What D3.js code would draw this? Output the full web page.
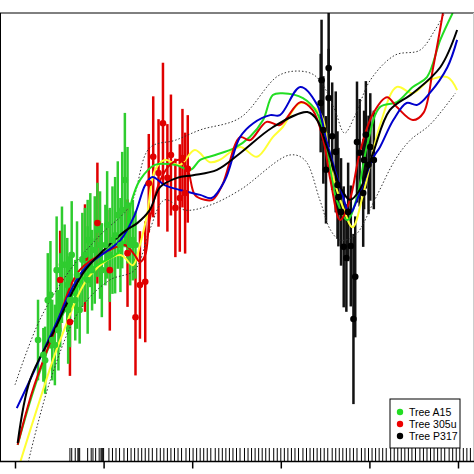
<!DOCTYPE html>
<html><head><meta charset="utf-8">
<script src="https://cdn.jsdelivr.net/npm/d3@7"></script>
<style>body{margin:0;background:#fff}</style></head>
<body><svg id="c" width="474" height="474"></svg>
<script>
const xTicks=[0,100,200,300,400,500];
const blackMean=[[3,4],[17,18.1],[43,28.6],[77,42],[104,47.8],[126,51.6],[138,53.1],[152,56],[164,61.2],[183,63.2],[201,63.8],[228,65],[254,68.7],[291,74.5],[330,77.9],[341,76.1],[352,70.1],[367,61.2],[378,58.3],[389,60.5],[404,68.7],[423,78.3],[449,82.1],[480,87.9],[499,96.2]];
const blueCurve=[[2,11.8],[17,18.1],[43,29.2],[77,42.6],[119,49.3],[135,54.9],[147,61.6],[155,63.4],[169,61.6],[186,60.5],[209,59.4],[222,58.7],[237,62.7],[254,72.3],[269,75.4],[288,77.2],[299,77.2],[322,83.5],[341,79.5],[352,71.2],[367,61.2],[378,55.4],[389,59.8],[404,67.6],[412,70.1],[427,76.1],[442,79.9],[454,79.5],[468,82.1],[488,87.9],[499,94]];
const redCurve=[[3,3.6],[20,15.8],[45,29.2],[73,42.6],[107,47.1],[124,48.2],[135,46],[141,44.4],[147,46],[152,53.8],[164,62.7],[175,66.1],[186,67.2],[195,65],[203,59.4],[214,58.3],[223,58.3],[234,61.6],[254,72.3],[265,71.6],[284,75.7],[299,75],[322,80.1],[336,78.3],[348,71.6],[356,62.7],[367,53.8],[378,58.3],[389,68.7],[404,77.5],[420,81.2],[431,79],[449,76.1],[461,77.7],[472,87.9],[483,100]];
const greenCurve=[[3,3.6],[23,17],[51,31.5],[85,42.6],[119,47.1],[132,58.3],[141,62.7],[158,66.1],[181,66.1],[198,65],[209,67.2],[226,68.3],[248,69.9],[265,72.3],[280,76.1],[291,81.7],[302,82.1],[325,81],[341,77.7],[352,69.4],[363,58.3],[375,53.8],[386,58.9],[397,70.1],[412,79],[431,80.1],[449,83.5],[465,85.7],[480,94],[494,100]];
const yellowCurve=[[6,-0.2],[28,13.6],[51,27],[85,41.5],[119,46],[133,43.7],[141,48.2],[149,54.9],[158,64.9],[169,67.2],[186,66.1],[203,69.4],[220,66.7],[231,67.2],[254,70.1],[273,67.9],[291,72.3],[302,74.5],[322,79.9],[344,77.7],[356,65.6],[370,56.7],[381,52.2],[393,59.6],[412,75],[431,83.5],[449,82.1],[468,85],[488,85.7],[499,82.8]];
const upperBand=[[0,17],[28,31.5],[62,42.6],[96,50.4],[130,57.1],[152,69.9],[181,71.6],[209,73.9],[254,76.6],[299,86.2],[330,86.8],[344,85],[361,78.3],[372,73.2],[384,77.2],[401,85],[429,90.6],[457,91.7],[474,96.2],[485,100]];
const lowerBand=[[15,-0.2],[40,18.1],[73,33.7],[107,40.4],[135,42.6],[152,51.6],[169,58.3],[192,56],[220,57.1],[254,60.5],[310,68.3],[327,67.2],[344,58.3],[356,51.6],[367,49.3],[384,50.4],[406,58.3],[429,67.2],[446,71.6],[468,75],[491,80.5],[497,82.1]];
const treeA15=[[34,22.5,7.5],[37,35.9,10.5],[40,37.1,12],[42,27,9],[45,25.9,9],[47,42.6,12],[51,35.9,10.5],[53,43.8,13],[56,43.8,9],[59,39.3,10.5],[62,35.9,10.5],[64,46,12],[68,35.9,9],[70,41.5,12],[73,33.7,7.5],[76,44.9,10.5],[79,46,10.5],[82,40.4,12],[85,49.3,10.5],[87,42.6,9],[90,47.1,12],[93,51.6,10.5],[96,48.2,12],[98,42.6,10.5],[102,48.2,9],[104,52.7,12],[107,46,10.5],[110,49.3,12],[113,50.4,13],[116,54.9,12],[119,48.2,10.5],[121,56,13],[124,62.7,15],[127,57.1,13],[130,48.2,9],[133,49.3,9],[136,48.2,7.5],[82,49.3,9],[60,33.7,12],[49,29.2,9],[32,23.7,6],[26,27,9]];
const tree305u=[[136,32.1,13],[141,39.3,12],[147,40,13.5],[127,46.4,12],[156,67.9,13.5],[167,75.4,13.5],[162,64.3,12],[151,62,11],[176,68.3,13.5],[172,63.2,12],[181,56.5,11],[186,58.7,12],[192,59.8,13.5],[195,65.2,12],[189,67.6,11],[62,31,12],[93,53.1,13.5],[79,45.3,12],[107,42.6,13.5],[51,40.4,11]];
const treeP317=[[354,87.7,14.5],[346,85,13.5],[345,79.9,11],[354,81,11],[358,72.5,12],[348,73.9,12],[362,69,13.5],[351,65,12],[364,61.6,12],[365,58.9,11],[368,55.6,12],[371,47.8,13.5],[374,45.3,12],[379,48,13.5],[376,55.6,11],[384,41.1,13.5],[382,31.7,19],[386,71.2,13.5],[389,68.8,12],[393,59.8,12],[394,67.2,11],[396,72.8,12],[399,66.1,11],[401,70.1,12],[405,67.2,11]];
const rug=[62,64,68,71,72,73,82,86,88,91,95,97,98,99,100,106,110,114,118,123,127,131,135,139,143,147,151,155,160,164,168,172,176,180,184,188,193,197,201,205,209,213,217,221,226,230,234,238,242,246,250,254,259,263,267,271,275,279,283,287,292,296,300,304,308,312,316,320,325,329,333,337,341,345,349,353,358,362,366,370,374,378,382,386,391,395,399,403,407,411,415,419,424,428,432,436,440,444,448,452,457,461,465,469,473,477,481,485,490,494,498,502,506,510,514,518];
const legendLabels=["Tree A15","Tree 305u","Tree P317"];
const legendColors=["#22dd22","#ee0000","#000000"];

const svg=d3.select("#c");
const x=d3.scaleLinear().domain([0,500]).range([15,458]);
const y=d3.scaleLinear().domain([0,100]).range([461,13]);
svg.append("clipPath").attr("id","cp").append("rect").attr("x",0).attr("y",13).attr("width",473).attr("height",448);
const g=svg.append("g").attr("clip-path","url(#cp)");
const line=d3.line().x(d=>x(d[0])).y(d=>y(d[1])).curve(d3.curveCatmullRom);

function bars(data,col){
  g.append("g").selectAll("line").data(data).join("line")
   .attr("x1",d=>x(d[0])).attr("x2",d=>x(d[0]))
   .attr("y1",d=>y(d[1]-d[2])).attr("y2",d=>y(d[1]+d[2]))
   .attr("stroke",col).attr("stroke-width",2.5);
}
bars(tree305u,"#e00000");
bars(treeA15,"#2fcc2f");
bars(treeP317,"#111");
[upperBand,lowerBand].forEach(b=>g.append("path").attr("d",line(b)).attr("fill","none").attr("stroke","#333").attr("stroke-width",1).attr("stroke-dasharray","1.5,2"));
[[yellowCurve,"#ffff33"],[greenCurve,"#22dd22"],[redCurve,"#dd0000"],[blueCurve,"#0000cc"],[blackMean,"#000"]].forEach(([c,col])=>
  g.append("path").attr("d",line(c)).attr("fill","none").attr("stroke",col).attr("stroke-width",2));
function dots(data,col){
  g.append("g").selectAll("circle").data(data).join("circle")
   .attr("cx",d=>x(d[0])).attr("cy",d=>y(d[1])).attr("r",3.3).attr("fill",col);
}
dots(tree305u,"#e00000");dots(treeA15,"#2fcc2f");dots(treeP317,"#000");

svg.append("g").selectAll("line").data(rug).join("line")
 .attr("x1",d=>x(d)).attr("x2",d=>x(d)).attr("y1",448).attr("y2",461)
 .attr("stroke","#000").attr("stroke-width",1);
svg.append("line").attr("x1",0).attr("x2",474).attr("y1",13).attr("y2",13).attr("stroke","#000");
svg.append("line").attr("x1",0.5).attr("x2",0.5).attr("y1",13).attr("y2",461).attr("stroke","#000");
svg.append("line").attr("x1",473.5).attr("x2",473.5).attr("y1",13).attr("y2",461).attr("stroke","#ccc");
const ax=svg.append("g").attr("transform","translate(0,461.5)").call(d3.axisBottom(x).tickValues(xTicks).tickSize(7).tickFormat(""));
ax.select(".domain").attr("d","M0,0H474").attr("stroke-width",1.5);
ax.selectAll(".tick line").attr("stroke-width",1.5);

const lg=svg.append("g");
lg.append("rect").attr("x",390).attr("y",399).attr("width",70).attr("height",49).attr("fill","#fff").attr("stroke","#000").attr("stroke-width",1);
legendLabels.forEach((t,i)=>{
  lg.append("circle").attr("cx",400).attr("cy",412+i*12).attr("r",3.2).attr("fill",legendColors[i]);
  lg.append("text").attr("x",409).attr("y",416+i*12).text(t).attr("font-family","Liberation Sans, Arial").attr("font-size",10.5);
});
</script></body></html>
